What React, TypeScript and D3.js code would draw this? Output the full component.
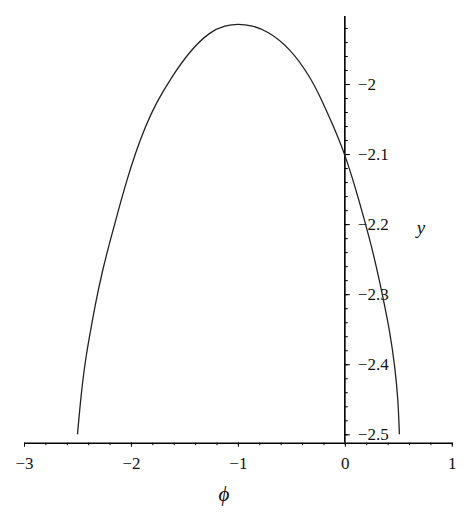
import React, { useEffect, useRef } from 'react';
import * as d3 from 'd3';

// curve values (left branch, apex, right branch)
const phiValues = [-2.5, -2.48, -2.456, -2.424, -2.381, -2.335, -2.274, -2.194, -2.117, -2.038, -1.961, -1.867, -1.764,
    -1.633, -1.446, -1.259, -1.119, -1.0, -0.867, -0.727, -0.511, -0.324, -0.231, -0.107, 0.0, 0.096, 0.174, 0.252,
    0.314, 0.358, 0.424, 0.47, 0.498, 0.51];
const yValues = [-2.5, -2.466, -2.43, -2.392, -2.355, -2.316, -2.271, -2.223, -2.18, -2.137, -2.1, -2.061, -2.027,
    -1.993, -1.952, -1.925, -1.9165, -1.914, -1.9165, -1.924, -1.949, -1.99, -2.018, -2.06, -2.1, -2.147, -2.189, -2.233,
    -2.274, -2.306, -2.356, -2.406, -2.451, -2.5];

const xTicks = [-3, -2, -1, 0, 1];
const yTicks = [-2, -2.1, -2.2, -2.3, -2.4, -2.5];
const xLabel = 'ϕ';
const yLabel = 'y';

const App: React.FC = () => {
    const svgRef = useRef<SVGSVGElement | null>(null);

    useEffect(() => {
        if (!svgRef.current) return;
        const svg = d3.select(svgRef.current);
        svg.selectAll('*').remove();

        const x = d3.scaleLinear().domain([-3, 1]).range([24, 451.8]);
        const y = d3.scaleLinear().domain([-2.5, -2]).range([434.3, 84]);
        const yBottom = y.invert(442.7);
        const yTop = y.invert(16);
        const font = 'Liberation Serif';

        // minor ticks
        const xMinor = d3.range(-3, 1.0001, 0.2).map(v => +v.toFixed(2));
        const yMinor = d3.range(-2.5, yTop, 0.02).map(v => +v.toFixed(3));

        const xAxis = svg.append('g')
            .attr('transform', `translate(0,${y(yBottom)})`);
        xAxis.append('g')
            .call(d3.axisBottom(x).tickValues(xMinor).tickSize(2.5).tickSizeOuter(0).tickFormat(() => ''))
            .call(g => g.select('.domain').remove());
        xAxis.append('g')
            .call(d3.axisBottom(x).tickValues(xTicks).tickSize(4).tickPadding(10).tickSizeOuter(0).tickFormat(d3.format('')))
            .attr('font-family', font)
            .attr('font-size', 17)
            .call(g => g.select('.domain').attr('stroke-width', 1.6))
            .call(g => g.selectAll('text').attr('fill', '#111'));

        const yAxis = svg.append('g')
            .attr('transform', `translate(${x(0)},0)`);
        yAxis.append('g')
            .call(d3.axisRight(y).tickValues(yMinor).tickSize(3).tickSizeOuter(0).tickFormat(() => ''))
            .call(g => g.select('.domain').remove());
        yAxis.append('g')
            .call(d3.axisRight(y).tickValues(yTicks).tickSize(5).tickPadding(8).tickSizeOuter(0).tickFormat(d3.format('')))
            .attr('font-family', font)
            .attr('font-size', 17)
            .call(g => g.selectAll('text').attr('fill', '#111'))
            .call(g => g.select('.domain').remove());
        yAxis.append('line')
            .attr('y1', y(yTop))
            .attr('y2', y(yBottom))
            .attr('stroke', '#000')
            .attr('stroke-width', 1.6);

        const points = phiValues.map((p, i) => [p, yValues[i]] as [number, number]);
        // B-spline smooths out small reading errors between the points
        const line = d3.line<[number, number]>()
            .x(d => x(d[0]))
            .y(d => y(d[1]))
            .curve(d3.curveBasis);

        svg.append('path')
            .datum(points)
            .attr('d', line)
            .attr('fill', 'none')
            .attr('stroke', '#222')
            .attr('stroke-width', 1.3);

        svg.append('text')
            .attr('x', 224)
            .attr('y', 501)
            .attr('text-anchor', 'middle')
            .attr('font-family', font)
            .attr('font-style', 'italic')
            .attr('font-size', 21)
            .attr('fill', '#111')
            .text(xLabel);

        svg.append('text')
            .attr('x', 421)
            .attr('y', 234)
            .attr('text-anchor', 'middle')
            .attr('font-family', font)
            .attr('font-style', 'italic')
            .attr('font-size', 19)
            .attr('fill', '#111')
            .text(yLabel);
    }, []);

    return (
        <svg ref={svgRef} width={474} height={520}
            style={{ position: 'absolute', left: 0, top: 0, background: '#fff' }} />
    );
};

export default App;
